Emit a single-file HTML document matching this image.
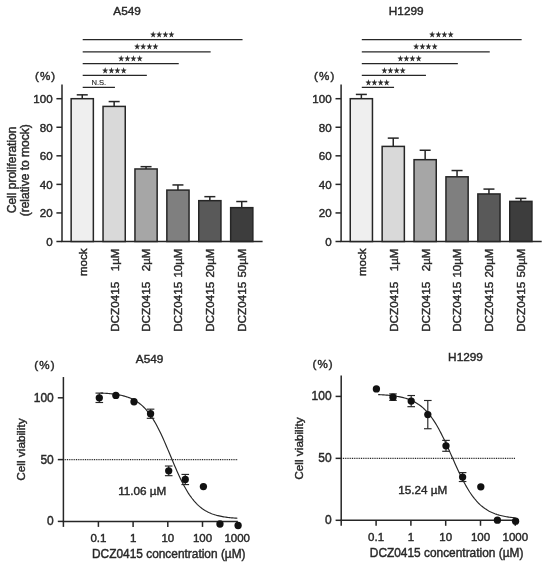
<!DOCTYPE html>
<html><head><meta charset="utf-8"><title>DCZ0415 proliferation and viability</title>
<style>
html,body{margin:0;padding:0;background:#fff;}
svg{display:block;}
text{font-family:"Liberation Sans", Arial, sans-serif;fill:#282828;stroke:#282828;stroke-width:0.42px;}
</style></head><body>
<svg width="550" height="566" viewBox="0 0 550 566">
<rect width="550" height="566" fill="#fff"/>
<text x="16" y="169.9" font-size="12" text-anchor="middle" transform="rotate(-90 16 169.9)">Cell proliferation</text>
<text x="28.8" y="170.3" font-size="12" text-anchor="middle" transform="rotate(-90 28.8 170.3)">(relative to mock)</text>
<text x="127.1" y="14.9" font-size="11.8" text-anchor="middle">A549</text>
<text x="35" y="80.0" font-size="11.6" letter-spacing="1.1">(%)</text>
<line x1="62" y1="84.42" x2="62" y2="242.1" stroke="#262626" stroke-width="1.5"/>
<line x1="56.4" y1="241.5" x2="62" y2="241.5" stroke="#262626" stroke-width="1.5"/>
<text x="52.6" y="246" font-size="11.6" text-anchor="end">0</text>
<line x1="56.4" y1="212.94" x2="62" y2="212.94" stroke="#262626" stroke-width="1.5"/>
<text x="52.6" y="217.44" font-size="11.6" text-anchor="end">20</text>
<line x1="56.4" y1="184.38" x2="62" y2="184.38" stroke="#262626" stroke-width="1.5"/>
<text x="52.6" y="188.88" font-size="11.6" text-anchor="end">40</text>
<line x1="56.4" y1="155.82" x2="62" y2="155.82" stroke="#262626" stroke-width="1.5"/>
<text x="52.6" y="160.32" font-size="11.6" text-anchor="end">60</text>
<line x1="56.4" y1="127.26" x2="62" y2="127.26" stroke="#262626" stroke-width="1.5"/>
<text x="52.6" y="131.76" font-size="11.6" text-anchor="end">80</text>
<line x1="56.4" y1="98.7" x2="62" y2="98.7" stroke="#262626" stroke-width="1.5"/>
<text x="52.6" y="103.2" font-size="11.6" text-anchor="end">100</text>
<line x1="61.4" y1="241.5" x2="262.6" y2="241.5" stroke="#262626" stroke-width="1.5"/>
<line x1="82.25" y1="94.84" x2="82.25" y2="98.7" stroke="#262626" stroke-width="1.5"/>
<line x1="76.75" y1="94.84" x2="87.75" y2="94.84" stroke="#262626" stroke-width="1.5"/>
<rect x="71.15" y="98.7" width="22.2" height="142.8" fill="#efefef" stroke="#262626" stroke-width="1.5"/>
<line x1="114.15" y1="101.56" x2="114.15" y2="106.41" stroke="#262626" stroke-width="1.5"/>
<line x1="108.65" y1="101.56" x2="119.65" y2="101.56" stroke="#262626" stroke-width="1.5"/>
<rect x="103.05" y="106.41" width="22.2" height="135.09" fill="#d9d9d9" stroke="#262626" stroke-width="1.5"/>
<line x1="146.05" y1="166.67" x2="146.05" y2="168.96" stroke="#262626" stroke-width="1.5"/>
<line x1="140.55" y1="166.67" x2="151.55" y2="166.67" stroke="#262626" stroke-width="1.5"/>
<rect x="134.95" y="168.96" width="22.2" height="72.54" fill="#a6a6a6" stroke="#262626" stroke-width="1.5"/>
<line x1="177.95" y1="184.95" x2="177.95" y2="190.09" stroke="#262626" stroke-width="1.5"/>
<line x1="172.45" y1="184.95" x2="183.45" y2="184.95" stroke="#262626" stroke-width="1.5"/>
<rect x="166.85" y="190.09" width="22.2" height="51.41" fill="#7f7f7f" stroke="#262626" stroke-width="1.5"/>
<line x1="209.85" y1="196.66" x2="209.85" y2="200.66" stroke="#262626" stroke-width="1.5"/>
<line x1="204.35" y1="196.66" x2="215.35" y2="196.66" stroke="#262626" stroke-width="1.5"/>
<rect x="198.75" y="200.66" width="22.2" height="40.84" fill="#595959" stroke="#262626" stroke-width="1.5"/>
<line x1="241.75" y1="201.52" x2="241.75" y2="207.66" stroke="#262626" stroke-width="1.5"/>
<line x1="236.25" y1="201.52" x2="247.25" y2="201.52" stroke="#262626" stroke-width="1.5"/>
<rect x="230.65" y="207.66" width="22.2" height="33.84" fill="#3d3d3d" stroke="#262626" stroke-width="1.5"/>
<text x="86.65" y="248.6" font-size="11.5" text-anchor="end" transform="rotate(-90 86.65 248.6)">mock</text>
<text x="118.55" y="248.6" font-size="11.5" text-anchor="end" transform="rotate(-90 118.55 248.6)">1µM</text>
<text x="118.55" y="281.8" font-size="11.7" text-anchor="end" transform="rotate(-90 118.55 281.8)">DCZ0415</text>
<text x="150.45" y="248.6" font-size="11.5" text-anchor="end" transform="rotate(-90 150.45 248.6)">2µM</text>
<text x="150.45" y="281.8" font-size="11.7" text-anchor="end" transform="rotate(-90 150.45 281.8)">DCZ0415</text>
<text x="182.35" y="248.6" font-size="11.5" text-anchor="end" transform="rotate(-90 182.35 248.6)">10µM</text>
<text x="182.35" y="281.8" font-size="11.7" text-anchor="end" transform="rotate(-90 182.35 281.8)">DCZ0415</text>
<text x="214.25" y="248.6" font-size="11.5" text-anchor="end" transform="rotate(-90 214.25 248.6)">20µM</text>
<text x="214.25" y="281.8" font-size="11.7" text-anchor="end" transform="rotate(-90 214.25 281.8)">DCZ0415</text>
<text x="246.15" y="248.6" font-size="11.5" text-anchor="end" transform="rotate(-90 246.15 248.6)">50µM</text>
<text x="246.15" y="281.8" font-size="11.7" text-anchor="end" transform="rotate(-90 246.15 281.8)">DCZ0415</text>
<line x1="82.7" y1="39.7" x2="242.55" y2="39.7" stroke="#262626" stroke-width="1.3"/>
<text x="0" y="0" transform="translate(162.43 37.3) scale(0.92 1)" font-size="7.1" letter-spacing="0.3" text-anchor="middle" style="font-family:'DejaVu Sans',sans-serif;stroke:#1a1a1a;stroke-width:0.35px" fill="#1a1a1a">★★★★</text>
<line x1="82.7" y1="51.8" x2="210.65" y2="51.8" stroke="#262626" stroke-width="1.3"/>
<text x="0" y="0" transform="translate(146.48 49.4) scale(0.92 1)" font-size="7.1" letter-spacing="0.3" text-anchor="middle" style="font-family:'DejaVu Sans',sans-serif;stroke:#1a1a1a;stroke-width:0.35px" fill="#1a1a1a">★★★★</text>
<line x1="82.7" y1="63.6" x2="178.75" y2="63.6" stroke="#262626" stroke-width="1.3"/>
<text x="0" y="0" transform="translate(130.53 61.2) scale(0.92 1)" font-size="7.1" letter-spacing="0.3" text-anchor="middle" style="font-family:'DejaVu Sans',sans-serif;stroke:#1a1a1a;stroke-width:0.35px" fill="#1a1a1a">★★★★</text>
<line x1="82.7" y1="75.3" x2="146.85" y2="75.3" stroke="#262626" stroke-width="1.3"/>
<text x="0" y="0" transform="translate(114.58 72.9) scale(0.92 1)" font-size="7.1" letter-spacing="0.3" text-anchor="middle" style="font-family:'DejaVu Sans',sans-serif;stroke:#1a1a1a;stroke-width:0.35px" fill="#1a1a1a">★★★★</text>
<line x1="82.7" y1="87.3" x2="114.95" y2="87.3" stroke="#262626" stroke-width="1.3"/>
<text x="98.83" y="85" font-size="7.6" text-anchor="middle" style="stroke-width:0.15px">N.S.</text>
<text x="406.2" y="14.9" font-size="11.8" text-anchor="middle">H1299</text>
<text x="314.1" y="80.0" font-size="11.6" letter-spacing="1.1">(%)</text>
<line x1="341.1" y1="84.42" x2="341.1" y2="242.1" stroke="#262626" stroke-width="1.5"/>
<line x1="335.5" y1="241.5" x2="341.1" y2="241.5" stroke="#262626" stroke-width="1.5"/>
<text x="331.7" y="246" font-size="11.6" text-anchor="end">0</text>
<line x1="335.5" y1="212.94" x2="341.1" y2="212.94" stroke="#262626" stroke-width="1.5"/>
<text x="331.7" y="217.44" font-size="11.6" text-anchor="end">20</text>
<line x1="335.5" y1="184.38" x2="341.1" y2="184.38" stroke="#262626" stroke-width="1.5"/>
<text x="331.7" y="188.88" font-size="11.6" text-anchor="end">40</text>
<line x1="335.5" y1="155.82" x2="341.1" y2="155.82" stroke="#262626" stroke-width="1.5"/>
<text x="331.7" y="160.32" font-size="11.6" text-anchor="end">60</text>
<line x1="335.5" y1="127.26" x2="341.1" y2="127.26" stroke="#262626" stroke-width="1.5"/>
<text x="331.7" y="131.76" font-size="11.6" text-anchor="end">80</text>
<line x1="335.5" y1="98.7" x2="341.1" y2="98.7" stroke="#262626" stroke-width="1.5"/>
<text x="331.7" y="103.2" font-size="11.6" text-anchor="end">100</text>
<line x1="340.5" y1="241.5" x2="541.7" y2="241.5" stroke="#262626" stroke-width="1.5"/>
<line x1="361.35" y1="94.42" x2="361.35" y2="98.7" stroke="#262626" stroke-width="1.5"/>
<line x1="355.85" y1="94.42" x2="366.85" y2="94.42" stroke="#262626" stroke-width="1.5"/>
<rect x="350.25" y="98.7" width="22.2" height="142.8" fill="#efefef" stroke="#262626" stroke-width="1.5"/>
<line x1="393.25" y1="138.11" x2="393.25" y2="146.4" stroke="#262626" stroke-width="1.5"/>
<line x1="387.75" y1="138.11" x2="398.75" y2="138.11" stroke="#262626" stroke-width="1.5"/>
<rect x="382.15" y="146.4" width="22.2" height="95.1" fill="#d9d9d9" stroke="#262626" stroke-width="1.5"/>
<line x1="425.15" y1="150.25" x2="425.15" y2="159.68" stroke="#262626" stroke-width="1.5"/>
<line x1="419.65" y1="150.25" x2="430.65" y2="150.25" stroke="#262626" stroke-width="1.5"/>
<rect x="414.05" y="159.68" width="22.2" height="81.82" fill="#a6a6a6" stroke="#262626" stroke-width="1.5"/>
<line x1="457.05" y1="170.53" x2="457.05" y2="176.81" stroke="#262626" stroke-width="1.5"/>
<line x1="451.55" y1="170.53" x2="462.55" y2="170.53" stroke="#262626" stroke-width="1.5"/>
<rect x="445.95" y="176.81" width="22.2" height="64.69" fill="#7f7f7f" stroke="#262626" stroke-width="1.5"/>
<line x1="488.95" y1="189.09" x2="488.95" y2="193.95" stroke="#262626" stroke-width="1.5"/>
<line x1="483.45" y1="189.09" x2="494.45" y2="189.09" stroke="#262626" stroke-width="1.5"/>
<rect x="477.85" y="193.95" width="22.2" height="47.55" fill="#595959" stroke="#262626" stroke-width="1.5"/>
<line x1="520.85" y1="198.37" x2="520.85" y2="201.37" stroke="#262626" stroke-width="1.5"/>
<line x1="515.35" y1="198.37" x2="526.35" y2="198.37" stroke="#262626" stroke-width="1.5"/>
<rect x="509.75" y="201.37" width="22.2" height="40.13" fill="#3d3d3d" stroke="#262626" stroke-width="1.5"/>
<text x="365.75" y="248.6" font-size="11.5" text-anchor="end" transform="rotate(-90 365.75 248.6)">mock</text>
<text x="397.65" y="248.6" font-size="11.5" text-anchor="end" transform="rotate(-90 397.65 248.6)">1µM</text>
<text x="397.65" y="281.8" font-size="11.7" text-anchor="end" transform="rotate(-90 397.65 281.8)">DCZ0415</text>
<text x="429.55" y="248.6" font-size="11.5" text-anchor="end" transform="rotate(-90 429.55 248.6)">2µM</text>
<text x="429.55" y="281.8" font-size="11.7" text-anchor="end" transform="rotate(-90 429.55 281.8)">DCZ0415</text>
<text x="461.45" y="248.6" font-size="11.5" text-anchor="end" transform="rotate(-90 461.45 248.6)">10µM</text>
<text x="461.45" y="281.8" font-size="11.7" text-anchor="end" transform="rotate(-90 461.45 281.8)">DCZ0415</text>
<text x="493.35" y="248.6" font-size="11.5" text-anchor="end" transform="rotate(-90 493.35 248.6)">20µM</text>
<text x="493.35" y="281.8" font-size="11.7" text-anchor="end" transform="rotate(-90 493.35 281.8)">DCZ0415</text>
<text x="525.25" y="248.6" font-size="11.5" text-anchor="end" transform="rotate(-90 525.25 248.6)">50µM</text>
<text x="525.25" y="281.8" font-size="11.7" text-anchor="end" transform="rotate(-90 525.25 281.8)">DCZ0415</text>
<line x1="361.8" y1="39.7" x2="521.65" y2="39.7" stroke="#262626" stroke-width="1.3"/>
<text x="0" y="0" transform="translate(441.53 37.3) scale(0.92 1)" font-size="7.1" letter-spacing="0.3" text-anchor="middle" style="font-family:'DejaVu Sans',sans-serif;stroke:#1a1a1a;stroke-width:0.35px" fill="#1a1a1a">★★★★</text>
<line x1="361.8" y1="51.8" x2="489.75" y2="51.8" stroke="#262626" stroke-width="1.3"/>
<text x="0" y="0" transform="translate(425.58 49.4) scale(0.92 1)" font-size="7.1" letter-spacing="0.3" text-anchor="middle" style="font-family:'DejaVu Sans',sans-serif;stroke:#1a1a1a;stroke-width:0.35px" fill="#1a1a1a">★★★★</text>
<line x1="361.8" y1="63.6" x2="457.85" y2="63.6" stroke="#262626" stroke-width="1.3"/>
<text x="0" y="0" transform="translate(409.63 61.2) scale(0.92 1)" font-size="7.1" letter-spacing="0.3" text-anchor="middle" style="font-family:'DejaVu Sans',sans-serif;stroke:#1a1a1a;stroke-width:0.35px" fill="#1a1a1a">★★★★</text>
<line x1="361.8" y1="75.3" x2="425.95" y2="75.3" stroke="#262626" stroke-width="1.3"/>
<text x="0" y="0" transform="translate(393.68 72.9) scale(0.92 1)" font-size="7.1" letter-spacing="0.3" text-anchor="middle" style="font-family:'DejaVu Sans',sans-serif;stroke:#1a1a1a;stroke-width:0.35px" fill="#1a1a1a">★★★★</text>
<line x1="361.8" y1="87.3" x2="394.05" y2="87.3" stroke="#262626" stroke-width="1.3"/>
<text x="0" y="0" transform="translate(377.73 84.9) scale(0.92 1)" font-size="7.1" letter-spacing="0.3" text-anchor="middle" style="font-family:'DejaVu Sans',sans-serif;stroke:#1a1a1a;stroke-width:0.35px" fill="#1a1a1a">★★★★</text>
<text x="149.6" y="362.5" font-size="11.8" text-anchor="middle">A549</text>
<text x="34.3" y="368.8" font-size="11.6" letter-spacing="1.1">(%)</text>
<line x1="63.4" y1="377.04" x2="63.4" y2="526.9" stroke="#262626" stroke-width="1.5"/>
<line x1="57.8" y1="521.4" x2="63.4" y2="521.4" stroke="#262626" stroke-width="1.5"/>
<text x="53.8" y="525.3" font-size="12" text-anchor="end">0</text>
<line x1="57.8" y1="459.6" x2="63.4" y2="459.6" stroke="#262626" stroke-width="1.5"/>
<text x="53.8" y="463.5" font-size="12" text-anchor="end">50</text>
<line x1="57.8" y1="397.8" x2="63.4" y2="397.8" stroke="#262626" stroke-width="1.5"/>
<text x="53.8" y="401.7" font-size="12" text-anchor="end">100</text>
<line x1="62.8" y1="521.4" x2="237.8" y2="521.4" stroke="#262626" stroke-width="1.5"/>
<line x1="98.4" y1="521.4" x2="98.4" y2="526.9" stroke="#262626" stroke-width="1.5"/>
<text x="98.4" y="541.7" font-size="11.5" text-anchor="middle">0.1</text>
<line x1="133.1" y1="521.4" x2="133.1" y2="526.9" stroke="#262626" stroke-width="1.5"/>
<text x="133.1" y="541.7" font-size="11.5" text-anchor="middle">1</text>
<line x1="167.8" y1="521.4" x2="167.8" y2="526.9" stroke="#262626" stroke-width="1.5"/>
<text x="167.8" y="541.7" font-size="11.5" text-anchor="middle">10</text>
<line x1="202.5" y1="521.4" x2="202.5" y2="526.9" stroke="#262626" stroke-width="1.5"/>
<text x="202.5" y="541.7" font-size="11.5" text-anchor="middle">100</text>
<line x1="237.2" y1="521.4" x2="237.2" y2="526.9" stroke="#262626" stroke-width="1.5"/>
<text x="237.2" y="541.7" font-size="11.5" text-anchor="middle">1000</text>
<line x1="63.4" y1="459.6" x2="237.4" y2="459.6" stroke="#262626" stroke-width="1.2" stroke-dasharray="1 0.8"/>
<polyline points="100.48,393.01 101.62,393.07 102.76,393.13 103.9,393.2 105.05,393.27 106.19,393.35 107.33,393.44 108.47,393.53 109.61,393.63 110.75,393.74 111.89,393.86 113.03,394 114.17,394.14 115.31,394.3 116.45,394.47 117.59,394.65 118.73,394.85 119.87,395.07 121.02,395.31 122.16,395.56 123.3,395.84 124.44,396.14 125.58,396.47 126.72,396.83 127.86,397.22 129,397.63 130.14,398.09 131.28,398.58 132.42,399.11 133.56,399.68 134.7,400.3 135.85,400.96 136.99,401.68 138.13,402.45 139.27,403.28 140.41,404.18 141.55,405.13 142.69,406.16 143.83,407.26 144.97,408.43 146.11,409.68 147.25,411.02 148.39,412.43 149.53,413.93 150.68,415.53 151.82,417.21 152.96,418.98 154.1,420.84 155.24,422.79 156.38,424.84 157.52,426.97 158.66,429.18 159.8,431.48 160.94,433.86 162.08,436.3 163.22,438.82 164.36,441.39 165.51,444.01 166.65,446.67 167.79,449.37 168.93,452.09 170.07,454.82 171.21,457.56 172.35,460.29 173.49,463 174.63,465.69 175.77,468.34 176.91,470.95 178.05,473.5 179.19,475.99 180.34,478.41 181.48,480.76 182.62,483.02 183.76,485.21 184.9,487.31 186.04,489.32 187.18,491.24 188.32,493.07 189.46,494.81 190.6,496.46 191.74,498.02 192.88,499.49 194.02,500.87 195.17,502.18 196.31,503.4 197.45,504.55 198.59,505.62 199.73,506.62 200.87,507.55 202.01,508.42 203.15,509.23 204.29,509.99 205.43,510.68 206.57,511.33 207.71,511.93 208.85,512.49 210,513 211.14,513.48 212.28,513.92 213.42,514.33 214.56,514.7 215.7,515.05 216.84,515.37 217.98,515.66 219.12,515.93 220.26,516.18 221.4,516.41 222.54,516.62 223.68,516.82 224.83,517 225.97,517.16 227.11,517.31 228.25,517.45 229.39,517.58 230.53,517.7 231.67,517.81 232.81,517.91 233.95,518 235.09,518.08 236.23,518.16 237.37,518.23" fill="none" stroke="#262626" stroke-width="1.15"/>
<line x1="99.3" y1="393.1" x2="99.3" y2="402.5" stroke="#262626" stroke-width="1.15"/>
<line x1="95.5" y1="393.1" x2="103.1" y2="393.1" stroke="#262626" stroke-width="1.15"/>
<line x1="95.5" y1="402.5" x2="103.1" y2="402.5" stroke="#262626" stroke-width="1.15"/>
<circle cx="99.3" cy="397.8" r="3.65" fill="#111"/>
<circle cx="115.86" cy="395.45" r="3.65" fill="#111"/>
<circle cx="134" cy="401.76" r="3.65" fill="#111"/>
<line x1="150.56" y1="409.17" x2="150.56" y2="418.32" stroke="#262626" stroke-width="1.15"/>
<line x1="146.76" y1="409.17" x2="154.36" y2="409.17" stroke="#262626" stroke-width="1.15"/>
<line x1="146.76" y1="418.32" x2="154.36" y2="418.32" stroke="#262626" stroke-width="1.15"/>
<circle cx="150.56" cy="413.74" r="3.65" fill="#111"/>
<line x1="168.7" y1="466.03" x2="168.7" y2="475.67" stroke="#262626" stroke-width="1.15"/>
<line x1="164.9" y1="466.03" x2="172.5" y2="466.03" stroke="#262626" stroke-width="1.15"/>
<line x1="164.9" y1="475.67" x2="172.5" y2="475.67" stroke="#262626" stroke-width="1.15"/>
<circle cx="168.7" cy="470.85" r="3.65" fill="#111"/>
<line x1="185.26" y1="474.43" x2="185.26" y2="484.57" stroke="#262626" stroke-width="1.15"/>
<line x1="181.46" y1="474.43" x2="189.06" y2="474.43" stroke="#262626" stroke-width="1.15"/>
<line x1="181.46" y1="484.57" x2="189.06" y2="484.57" stroke="#262626" stroke-width="1.15"/>
<circle cx="185.26" cy="479.5" r="3.65" fill="#111"/>
<circle cx="203.4" cy="486.54" r="3.65" fill="#111"/>
<circle cx="219.96" cy="524" r="3.65" fill="#111"/>
<circle cx="238.1" cy="525.48" r="3.65" fill="#111"/>
<text x="118.2" y="494.7" font-size="11.7" text-anchor="start">11.06 µM</text>
<text x="25" y="449.6" font-size="11.8" text-anchor="middle" transform="rotate(-90 25 449.6)">Cell viability</text>
<text x="92" y="558" font-size="11.9" text-anchor="start">DCZ0415 concentration (µM)</text>
<text x="465.5" y="361.3" font-size="11.8" text-anchor="middle">H1299</text>
<text x="312.5" y="367.8" font-size="11.6" letter-spacing="1.1">(%)</text>
<line x1="341.2" y1="375.58" x2="341.2" y2="525.8" stroke="#262626" stroke-width="1.5"/>
<line x1="335.6" y1="520.3" x2="341.2" y2="520.3" stroke="#262626" stroke-width="1.5"/>
<text x="331.6" y="524.2" font-size="12" text-anchor="end">0</text>
<line x1="335.6" y1="458.35" x2="341.2" y2="458.35" stroke="#262626" stroke-width="1.5"/>
<text x="331.6" y="462.25" font-size="12" text-anchor="end">50</text>
<line x1="335.6" y1="396.4" x2="341.2" y2="396.4" stroke="#262626" stroke-width="1.5"/>
<text x="331.6" y="400.3" font-size="12" text-anchor="end">100</text>
<line x1="340.6" y1="520.3" x2="515.9" y2="520.3" stroke="#262626" stroke-width="1.5"/>
<line x1="376.1" y1="520.3" x2="376.1" y2="525.8" stroke="#262626" stroke-width="1.5"/>
<text x="376.1" y="540.6" font-size="11.5" text-anchor="middle">0.1</text>
<line x1="410.9" y1="520.3" x2="410.9" y2="525.8" stroke="#262626" stroke-width="1.5"/>
<text x="410.9" y="540.6" font-size="11.5" text-anchor="middle">1</text>
<line x1="445.7" y1="520.3" x2="445.7" y2="525.8" stroke="#262626" stroke-width="1.5"/>
<text x="445.7" y="540.6" font-size="11.5" text-anchor="middle">10</text>
<line x1="480.5" y1="520.3" x2="480.5" y2="525.8" stroke="#262626" stroke-width="1.5"/>
<text x="480.5" y="540.6" font-size="11.5" text-anchor="middle">100</text>
<line x1="515.3" y1="520.3" x2="515.3" y2="525.8" stroke="#262626" stroke-width="1.5"/>
<text x="515.3" y="540.6" font-size="11.5" text-anchor="middle">1000</text>
<line x1="341.2" y1="458.35" x2="515.5" y2="458.35" stroke="#262626" stroke-width="1.2" stroke-dasharray="1 0.8"/>
<polyline points="378.19,394.62 379.33,394.67 380.48,394.73 381.62,394.79 382.76,394.86 383.91,394.93 385.05,395.01 386.2,395.1 387.34,395.19 388.48,395.29 389.63,395.4 390.77,395.51 391.92,395.64 393.06,395.78 394.2,395.93 395.35,396.09 396.49,396.27 397.64,396.46 398.78,396.67 399.92,396.89 401.07,397.13 402.21,397.39 403.36,397.67 404.5,397.98 405.65,398.31 406.79,398.67 407.93,399.05 409.08,399.46 410.22,399.91 411.37,400.39 412.51,400.91 413.65,401.47 414.8,402.07 415.94,402.72 417.09,403.41 418.23,404.15 419.37,404.95 420.52,405.8 421.66,406.71 422.81,407.68 423.95,408.72 425.09,409.82 426.24,411 427.38,412.25 428.53,413.57 429.67,414.97 430.81,416.45 431.96,418.01 433.1,419.65 434.25,421.37 435.39,423.18 436.53,425.06 437.68,427.03 438.82,429.07 439.97,431.19 441.11,433.38 442.25,435.64 443.4,437.96 444.54,440.34 445.69,442.78 446.83,445.25 447.98,447.77 449.12,450.31 450.26,452.87 451.41,455.45 452.55,458.03 453.7,460.6 454.84,463.17 455.98,465.7 457.13,468.21 458.27,470.68 459.42,473.11 460.56,475.48 461.7,477.8 462.85,480.05 463.99,482.23 465.14,484.34 466.28,486.38 467.42,488.33 468.57,490.21 469.71,492 470.86,493.71 472,495.35 473.14,496.89 474.29,498.36 475.43,499.75 476.58,501.07 477.72,502.31 478.86,503.47 480.01,504.57 481.15,505.6 482.3,506.56 483.44,507.47 484.58,508.31 485.73,509.1 486.87,509.84 488.02,510.52 489.16,511.16 490.3,511.76 491.45,512.31 492.59,512.82 493.74,513.3 494.88,513.75 496.03,514.16 497.17,514.54 498.31,514.89 499.46,515.22 500.6,515.52 501.75,515.8 502.89,516.06 504.03,516.3 505.18,516.52 506.32,516.72 507.47,516.91 508.61,517.08 509.75,517.24 510.9,517.39 512.04,517.53 513.19,517.66 514.33,517.77 515.47,517.88" fill="none" stroke="#262626" stroke-width="1.15"/>
<circle cx="376.4" cy="388.97" r="3.65" fill="#111"/>
<line x1="393" y1="393.92" x2="393" y2="400.36" stroke="#262626" stroke-width="1.15"/>
<line x1="389.2" y1="393.92" x2="396.8" y2="393.92" stroke="#262626" stroke-width="1.15"/>
<line x1="389.2" y1="400.36" x2="396.8" y2="400.36" stroke="#262626" stroke-width="1.15"/>
<circle cx="393" cy="397.14" r="3.65" fill="#111"/>
<line x1="411.2" y1="395.53" x2="411.2" y2="406.68" stroke="#262626" stroke-width="1.15"/>
<line x1="407.4" y1="395.53" x2="415" y2="395.53" stroke="#262626" stroke-width="1.15"/>
<line x1="407.4" y1="406.68" x2="415" y2="406.68" stroke="#262626" stroke-width="1.15"/>
<circle cx="411.2" cy="401.11" r="3.65" fill="#111"/>
<line x1="427.8" y1="400.49" x2="427.8" y2="428.74" stroke="#262626" stroke-width="1.15"/>
<line x1="424" y1="400.49" x2="431.6" y2="400.49" stroke="#262626" stroke-width="1.15"/>
<line x1="424" y1="428.74" x2="431.6" y2="428.74" stroke="#262626" stroke-width="1.15"/>
<circle cx="427.8" cy="414.61" r="3.65" fill="#111"/>
<line x1="446" y1="440.38" x2="446" y2="451.29" stroke="#262626" stroke-width="1.15"/>
<line x1="442.2" y1="440.38" x2="449.8" y2="440.38" stroke="#262626" stroke-width="1.15"/>
<line x1="442.2" y1="451.29" x2="449.8" y2="451.29" stroke="#262626" stroke-width="1.15"/>
<circle cx="446" cy="445.84" r="3.65" fill="#111"/>
<line x1="462.6" y1="472.6" x2="462.6" y2="481.52" stroke="#262626" stroke-width="1.15"/>
<line x1="458.8" y1="472.6" x2="466.4" y2="472.6" stroke="#262626" stroke-width="1.15"/>
<line x1="458.8" y1="481.52" x2="466.4" y2="481.52" stroke="#262626" stroke-width="1.15"/>
<circle cx="462.6" cy="477.06" r="3.65" fill="#111"/>
<circle cx="480.8" cy="486.85" r="3.65" fill="#111"/>
<circle cx="497.4" cy="520.18" r="3.65" fill="#111"/>
<circle cx="515.6" cy="521.17" r="3.65" fill="#111"/>
<text x="398.2" y="493.6" font-size="11.7" text-anchor="start">15.24 µM</text>
<text x="303.5" y="448.6" font-size="11.8" text-anchor="middle" transform="rotate(-90 303.5 448.6)">Cell viability</text>
<text x="369.8" y="557" font-size="11.9" text-anchor="start">DCZ0415 concentration (µM)</text>
</svg>
</body></html>
